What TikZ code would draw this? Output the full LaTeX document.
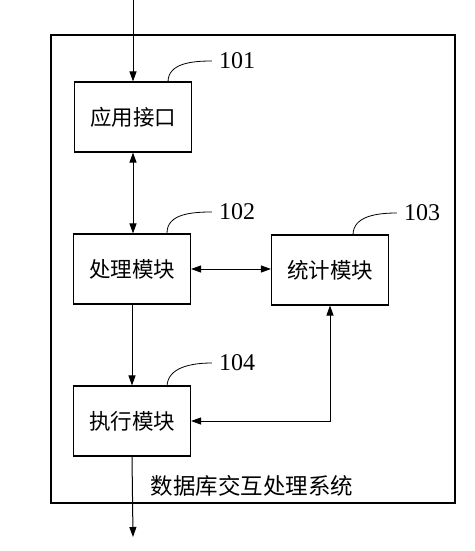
\documentclass[tikz,border=0pt]{standalone}
\usepackage{fontspec}
\setmainfont{Liberation Serif}
\newfontfamily\cjk{Noto Sans CJK SC}
\usetikzlibrary{arrows.meta}
\begin{document}
\begin{tikzpicture}[x=1pt,y=-1pt,
  box/.style={draw,line width=1.1pt,minimum width=117pt,minimum height=70pt,inner sep=0pt,font=\cjk\fontsize{21.5}{22}\selectfont},
  conn/.style={line width=1pt,-{Triangle[length=10pt,width=7pt]}},
  bconn/.style={line width=1pt,{Triangle[length=10pt,width=7pt]}-{Triangle[length=10pt,width=7pt]}},
  lead/.style={line width=0.8pt},
  num/.style={font=\fontsize{24}{24}\selectfont,inner sep=0pt}]
\useasboundingbox[fill=white] (0,0) rectangle (474,551);
\draw[line width=1.1pt] (51,35) rectangle (455,503);
\node[box] (a) at (133,117) {应用接口};
\node[box] (p) at (132,269) {处理模块};
\node[box] (s) at (330,270) {统计模块};
\node[box] (e) at (132,421) {执行模块};
\coordinate (top) at (133,0);
\coordinate (bot) at (133,537);
\draw[conn] (top) -- (a.north);
\draw[bconn] (a.south) -- (p.north -| a.south);
\draw[bconn] (p.east) -- (s.west |- p.east);
\draw[conn] (p.south) -- (e.north);
\draw[bconn] (s.south) |- (e.east);
\draw[conn] (e.south) -- (bot);
\node[num] (n1) at (237,61) {101};
\node[num] (n2) at (237,212) {102};
\node[num] (n3) at (422,213) {103};
\node[num] (n4) at (237,363) {104};
\draw[lead] (168,82) to[out=90,in=180] ([xshift=-7pt]n1.west);
\draw[lead] (167,233) to[out=90,in=180] ([xshift=-7pt]n2.west);
\draw[lead] (353,235) to[out=90,in=180] ([xshift=-7pt]n3.west);
\draw[lead] (167,387) to[out=90,in=180] ([xshift=-7pt]n4.west);
\node[font=\cjk\fontsize{22.5}{23}\selectfont] (t) at (252,486) {数据库交互处理系统};
\end{tikzpicture}
\end{document}
